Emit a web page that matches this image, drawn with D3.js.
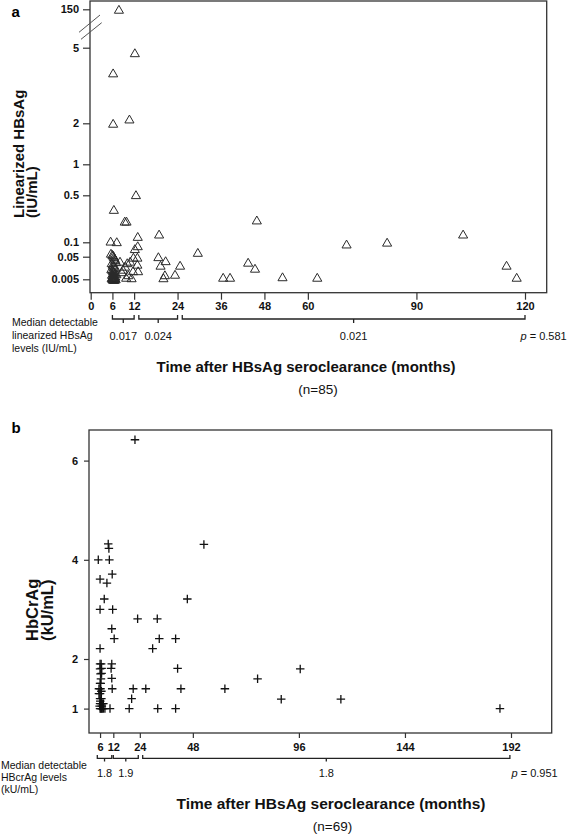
<!DOCTYPE html>
<html>
<head>
<meta charset="utf-8">
<script src="https://cdn.jsdelivr.net/npm/d3@7"></script>
<style>
body { margin: 0; background: #fff; }
svg { display: block; font-family: "Liberation Sans", Arial, sans-serif; }
</style>
</head>
<body>
<svg id="chart" width="567" height="835"></svg>
<script>
// ---- panel a : linearized HBsAg ----
var hbsMonths = [7.8, 12.2, 6.2, 6.2, 10.7, 12.5, 6.4, 9.4, 9.9, 5.5, 7.2, 13.0, 18.9, 29.6,
    13.0, 12.2, 11.8, 12.9, 10.9, 10.1, 12.9, 13.1, 11.3, 10.4, 8.9, 18.7, 20.7, 19.3,
    24.7, 23.3, 20.1, 20.5, 36.6, 38.5, 43.5, 45.4, 53.0, 45.9, 62.6, 70.7, 81.9, 102.9,
    114.9, 117.7, 8.1, 9.5, 8.6, 9.8, 11.7,
    5.6, 6.0, 6.2, 6.4, 6.6, 6.8, 7.0, 5.8, 6.1, 6.3, 6.5, 6.9, 5.7, 6.0, 6.2, 6.4, 6.7, 7.1,
    5.9, 6.1, 6.3, 6.5, 6.8, 6.0, 6.2, 6.4, 6.6, 5.8, 6.0, 6.3, 6.5, 6.9, 6.1, 6.2, 6.4, 6.6];
var hbsLevels = [150, 4.8, 4.0, 2.0, 2.17, 0.51, 0.38, 0.28, 0.28, 0.11, 0.105, 0.15, 0.17, 0.065,
    0.088, 0.078, 0.049, 0.049, 0.041, 0.038, 0.035, 0.022, 0.008, 0.014, 0.025, 0.05, 0.042, 0.033,
    0.033, 0.015, 0.008, 0.014, 0.009, 0.009, 0.039, 0.027, 0.010, 0.29, 0.009, 0.094, 0.101, 0.17,
    0.033, 0.009, 0.041, 0.031, 0.02, 0.009, 0.022,
    0.062, 0.058, 0.055, 0.05, 0.047, 0.044, 0.04, 0.038, 0.035, 0.033, 0.03, 0.028, 0.026, 0.024,
    0.022, 0.02, 0.018, 0.016, 0.015, 0.014, 0.013, 0.012, 0.011, 0.01, 0.009, 0.009, 0.008, 0.008,
    0.007, 0.007, 0.006, 0.006, 0.006, 0.005, 0.005, 0.005];
var hbsTicksY = [0.005, 0.05, 0.1, 0.5, 1, 2, 5, 150];
var hbsTicksX = [0, 6, 12, 24, 36, 48, 60, 90, 120];
var hbsBrackets = [[6, 12], [13.3, 24], [25.3, 120]];
var hbsMedians = ["0.017", "0.024", "0.021"];

// ---- panel b : HBcrAg ----
var hbcMonths = [21.8, 9.7, 10.0, 53.0, 5.2, 10.2, 11.5, 6.0, 9.1, 7.9, 45.5, 6.0, 11.7, 23.0, 31.9,
    11.3, 12.4, 32.8, 40.2, 6.0, 29.8, 6.0, 11.3, 6.7, 11.0, 41.1, 96.6, 6.7, 11.3, 77.3, 6.0, 6.3,
    5.5, 11.5, 21.0, 26.7, 42.6, 62.5, 5.5, 20.3, 88.0, 115.0, 6.0, 7.5,
    6.0, 6.7, 7.5, 8.2, 10.5, 19.2, 32.1, 40.2, 187,
    6.3, 7.0, 6.5, 7.0, 6.0, 6.6, 6.0, 6.2, 6.4, 6.2, 6.0, 6.5, 5.8, 6.8, 6.6, 6.1];
var hbcLevels = [6.42, 4.32, 4.23, 4.31, 4.0, 4.0, 3.71, 3.61, 3.53, 3.21, 3.21, 3.0, 3.0, 2.81, 2.81,
    2.61, 2.41, 2.41, 2.41, 2.21, 2.21, 1.9, 1.9, 1.81, 1.81, 1.81, 1.8, 1.71, 1.61, 1.6, 1.51, 1.51,
    1.4, 1.4, 1.4, 1.4, 1.4, 1.4, 1.3, 1.2, 1.19, 1.19, 1.1, 1.1,
    1.0, 1.0, 1.0, 1.0, 1.0, 1.0, 1.0, 1.0, 1.0,
    1.0, 1.0, 1.1, 1.1, 1.2, 1.2, 1.3, 1.4, 1.6, 1.7, 1.8, 1.9, 1.05, 1.05, 1.35, 1.15];
var hbcTicksY = [1, 2, 4, 6];
var hbcTicksX = [6, 12, 24, 48, 96, 144, 192];
var hbcBrackets = [[4.75, 11.3], [12, 23.3], [25.3, 191.5]];
var hbcMedians = ["1.8", "1.9", "1.8"];

var svg = d3.select("#chart");
var ink = "#2a2a2a";

// "linearized" y axis of panel a is not log nor linear, so a piecewise scale is used
var xA = d3.scaleLinear().domain([0, 120]).range([90.7, 525]);
var yA = d3.scaleLinear().domain(hbsTicksY).range([279.3, 256.7, 242.3, 195.3, 164.3, 123.3, 47.7, 9.3]);
var boxA = { left: 90, right: 546.7, top: 1, bottom: 292.7 };

var xB = d3.scaleLinear().domain([0, 192]).range([86.8, 511]);
var yB = d3.scaleLinear().domain([1, 6]).range([708.6, 460.6]);
var boxB = { left: 89, right: 551.7, top: 430, bottom: 733 };

// plus sign for the HBcrAg marks
var symbolPlus = {
    draw: function (context, size)
    {
        var r = Math.sqrt(size) / 2;
        context.moveTo(-r, 0);
        context.lineTo(r, 0);
        context.moveTo(0, -r);
        context.lineTo(0, r);
    }
};

function drawBox(b)
{
    svg.append("rect")
        .attr("x", b.left).attr("y", b.top)
        .attr("width", b.right - b.left).attr("height", b.bottom - b.top)
        .attr("fill", "none").attr("stroke", "#333").attr("stroke-width", 1.3);
}

function styleAxis(g, size)
{
    g.select(".domain").remove();
    g.attr("font-family", null).attr("font-size", size).attr("font-weight", "bold")
        .style("color", "#333");
    g.selectAll("text").attr("fill", "#111");
    g.selectAll("line").attr("stroke-width", 1.2);
}

function drawBrackets(x, data, labels, yTop, yMid, yDown, yText)
{
    var g = svg.append("g");
    g.selectAll("path")
        .data(data)
        .enter().append("path")
        .attr("d", function (d)
        {
            var p = d3.path();
            var x0 = x(d[0]), x1 = x(d[1]), xm = (x0 + x1) / 2;
            p.moveTo(x0, yTop);
            p.lineTo(x0, yMid);
            p.lineTo(x1, yMid);
            p.lineTo(x1, yTop);
            p.moveTo(xm, yMid);
            p.lineTo(xm, yDown);
            return p.toString();
        })
        .attr("fill", "none").attr("stroke", "#222").attr("stroke-width", 1.3);

    g.selectAll("text")
        .data(data)
        .enter().append("text")
        .attr("x", function (d) { return (x(d[0]) + x(d[1])) / 2; })
        .attr("y", yText)
        .attr("text-anchor", "middle")
        .attr("font-size", 11)
        .attr("fill", "#111")
        .text(function (d, i) { return labels[i]; });
}

function drawLines(lines, x, y0, step, size)
{
    svg.append("g").selectAll("text")
        .data(lines)
        .enter().append("text")
        .attr("x", x)
        .attr("y", function (d, i) { return y0 + i * step; })
        .attr("font-size", size)
        .attr("fill", "#111")
        .text(function (d) { return d; });
}

// ================= panel a =================
drawBox(boxA);

svg.append("g")
    .attr("transform", "translate(" + boxA.left + ",0)")
    .call(d3.axisLeft(yA).tickValues(hbsTicksY).tickFormat(function (d) { return String(d); })
        .tickSize(7).tickPadding(4))
    .call(function (g) { styleAxis(g, 11); });

svg.append("g")
    .attr("transform", "translate(0," + boxA.bottom + ")")
    .call(d3.axisBottom(xA).tickValues(hbsTicksX).tickFormat(d3.format("d"))
        .tickSize(7).tickPadding(2.5))
    .call(function (g) { styleAxis(g, 11); });

// axis break marks between 5 and 150
svg.append("g").selectAll("line")
    .data([0, 1])
    .enter().append("line")
    .attr("x1", function (d) { return 79 + d * 2; })
    .attr("y1", function (d) { return 32.3 + d * 7; })
    .attr("x2", function (d) { return 100 + d * 1.7; })
    .attr("y2", function (d) { return 15 + d * 7.7; })
    .attr("stroke", "#555").attr("stroke-width", 1);

svg.append("g")
    .selectAll("path")
    .data(hbsMonths)
    .enter().append("path")
    .attr("d", d3.symbol(d3.symbolTriangle, 36))
    .attr("transform", function (d, i)
    {
        return "translate(" + xA(d) + "," + (yA(hbsLevels[i]) + 1.3) + ")";
    })
    .attr("fill", "none").attr("stroke", ink).attr("stroke-width", 1);

svg.append("text").attr("x", 11.5).attr("y", 16.7)
    .attr("font-size", 15).attr("font-weight", "bold").text("a");

svg.append("text")
    .attr("transform", "translate(24,218) rotate(-90)")
    .attr("font-size", 15).attr("font-weight", "bold").attr("fill", "#111")
    .text("Linearized HBsAg");
svg.append("text")
    .attr("transform", "translate(37,218) rotate(-90)")
    .attr("font-size", 15).attr("font-weight", "bold").attr("fill", "#111")
    .text("(IU/mL)");

drawBrackets(xA, hbsBrackets, hbsMedians, 315, 319, 323, 340);
drawLines(["Median detectable", "linearized HBsAg", "levels (IU/mL)"], 12, 325.5, 13, 10.5);

var pA = svg.append("text").attr("x", 520.5).attr("y", 340).attr("font-size", 11).attr("fill", "#111");
pA.append("tspan").attr("font-style", "italic").text("p");
pA.append("tspan").text(" = 0.581");

svg.append("text").attr("x", 306).attr("y", 371.5).attr("text-anchor", "middle")
    .attr("font-size", 15).attr("font-weight", "bold").attr("fill", "#111")
    .text("Time after HBsAg seroclearance (months)");
svg.append("text").attr("x", 318).attr("y", 394).attr("text-anchor", "middle")
    .attr("font-size", 13.5).attr("fill", "#111").text("(n=85)");

// ================= panel b =================
drawBox(boxB);

svg.append("g")
    .attr("transform", "translate(" + boxB.left + ",0)")
    .call(d3.axisLeft(yB).tickValues(hbcTicksY).tickFormat(d3.format("d"))
        .tickSize(5).tickPadding(6))
    .call(function (g) { styleAxis(g, 11); });

svg.append("g")
    .attr("transform", "translate(0," + boxB.bottom + ")")
    .call(d3.axisBottom(xB).tickValues(hbcTicksX).tickFormat(d3.format("d"))
        .tickSize(5).tickPadding(5))
    .call(function (g) { styleAxis(g, 11); });

svg.append("g")
    .selectAll("path")
    .data(hbcMonths)
    .enter().append("path")
    .attr("d", d3.symbol(symbolPlus, 72))
    .attr("transform", function (d, i)
    {
        return "translate(" + xB(d) + "," + yB(hbcLevels[i]) + ")";
    })
    .attr("fill", "none").attr("stroke", "#111").attr("stroke-width", 1.3);

svg.append("text").attr("x", 11.5).attr("y", 433.3)
    .attr("font-size", 15).attr("font-weight", "bold").text("b");

svg.append("text")
    .attr("transform", "translate(38,641) rotate(-90)")
    .attr("font-size", 16.5).attr("font-weight", "bold").attr("fill", "#111")
    .text("HbCrAg");
svg.append("text")
    .attr("transform", "translate(53,641) rotate(-90)")
    .attr("font-size", 16.5).attr("font-weight", "bold").attr("fill", "#111")
    .text("(kU/mL)");

drawBrackets(xB, hbcBrackets, hbcMedians, 755, 758.3, 761.5, 777);
drawLines(["Median detectable", "HBcrAg levels", "(kU/mL)"], 1, 769, 12, 10.5);

var pB = svg.append("text").attr("x", 511.5).attr("y", 777).attr("font-size", 11).attr("fill", "#111");
pB.append("tspan").attr("font-style", "italic").text("p");
pB.append("tspan").text(" = 0.951");

svg.append("text").attr("x", 331).attr("y", 808.7).attr("text-anchor", "middle")
    .attr("font-size", 15.5).attr("font-weight", "bold").attr("fill", "#111")
    .text("Time after HBsAg seroclearance (months)");
svg.append("text").attr("x", 332.5).attr("y", 831).attr("text-anchor", "middle")
    .attr("font-size", 13.5).attr("fill", "#111").text("(n=69)");
</script>
</body>
</html>
